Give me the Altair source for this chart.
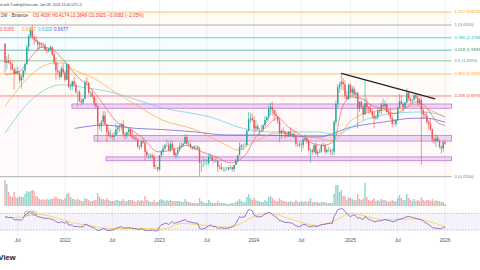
import altair as alt
import numpy as np
import pandas as pd

FONT = "Liberation Sans"

# ---- ADA/USDT weekly candles (Binance); week 0 = 2021-05-17, last = 2026-01-05
FIRST_OPEN = 2.22
CLOSE = [
    1.60, 1.66, 1.60, 1.56, 1.43, 1.32, 1.38, 1.33, 1.18, 1.25,
    1.40, 1.56, 2.10, 2.55, 2.85, 2.50, 2.40, 2.33, 2.20, 2.25,
    2.20, 2.17, 2.00, 1.97, 2.04, 2.10, 1.85, 1.60, 1.40, 1.36,
    1.25, 1.45, 1.35, 1.19, 1.55, 1.06, 1.07, 1.16, 1.09, 0.96,
    0.96, 0.82, 0.80, 0.85, 1.14, 1.13, 0.95, 0.95, 0.89, 0.79,
    0.75, 0.53, 0.53, 0.57, 0.64, 0.55, 0.48, 0.45, 0.45, 0.44,
    0.45, 0.50, 0.52, 0.53, 0.55, 0.46, 0.45, 0.48, 0.50, 0.45,
    0.44, 0.43, 0.42, 0.37, 0.37, 0.41, 0.40, 0.34, 0.32, 0.32,
    0.32, 0.31, 0.26, 0.26, 0.25, 0.32, 0.34, 0.36, 0.38, 0.38,
    0.35, 0.39, 0.36, 0.32, 0.33, 0.35, 0.37, 0.38, 0.39, 0.44,
    0.39, 0.39, 0.37, 0.36, 0.37, 0.37, 0.36, 0.28, 0.28, 0.28,
    0.28, 0.28, 0.31, 0.31, 0.29, 0.29, 0.29, 0.26, 0.26, 0.25,
    0.25, 0.25, 0.25, 0.26, 0.26, 0.25, 0.27, 0.29, 0.32, 0.37,
    0.38, 0.38, 0.38, 0.49, 0.60, 0.61, 0.59, 0.51, 0.53, 0.50,
    0.50, 0.50, 0.54, 0.59, 0.62, 0.72, 0.74, 0.70, 0.66, 0.63,
    0.58, 0.47, 0.49, 0.48, 0.46, 0.45, 0.48, 0.45, 0.46, 0.44,
    0.39, 0.39, 0.38, 0.38, 0.42, 0.43, 0.41, 0.35, 0.35, 0.34,
    0.38, 0.33, 0.34, 0.34, 0.38, 0.38, 0.34, 0.35, 0.35, 0.34,
    0.34, 0.57, 0.78, 1.05, 1.10, 1.15, 1.10, 0.90, 0.85, 1.09,
    0.95, 1.02, 0.92, 0.95, 0.72, 0.81, 0.75, 0.65, 0.79, 0.74,
    0.72, 0.68, 0.64, 0.61, 0.62, 0.70, 0.69, 0.77, 0.75, 0.78,
    0.68, 0.66, 0.61, 0.55, 0.55, 0.59, 0.73, 0.82, 0.78, 0.74,
    0.80, 0.95, 0.86, 0.83, 0.84, 0.91, 0.87, 0.79, 0.84, 0.70,
    0.65, 0.64, 0.57, 0.55, 0.50, 0.42, 0.41, 0.43, 0.41, 0.37,
    0.36, 0.4006, 0.3925,
]
HIGH = [
    2.26, 1.79, 1.87, 1.68, 1.64, 1.47, 1.48, 1.50, 1.38, 1.30,
    1.42, 1.60, 2.20, 2.62, 2.97, 3.10, 2.58, 2.55, 2.40, 2.30,
    2.30, 2.28, 2.25, 2.10, 2.08, 2.18, 2.12, 1.95, 1.77, 1.60,
    1.40, 1.52, 1.58, 1.40, 1.60, 1.57, 1.11, 1.17, 1.25, 1.14,
    0.98, 1.00, 0.86, 0.87, 1.19, 1.25, 1.15, 0.98, 1.00, 0.91,
    0.87, 0.76, 0.56, 0.59, 0.69, 0.69, 0.55, 0.52, 0.50, 0.47,
    0.48, 0.56, 0.54, 0.55, 0.56, 0.59, 0.48, 0.48, 0.52, 0.52,
    0.50, 0.46, 0.45, 0.43, 0.38, 0.42, 0.43, 0.41, 0.35, 0.33,
    0.33, 0.33, 0.32, 0.27, 0.26, 0.32, 0.35, 0.38, 0.39, 0.42,
    0.40, 0.41, 0.41, 0.37, 0.34, 0.36, 0.40, 0.40, 0.40, 0.46,
    0.46, 0.41, 0.40, 0.37, 0.38, 0.38, 0.38, 0.37, 0.29, 0.31,
    0.30, 0.30, 0.33, 0.33, 0.32, 0.30, 0.31, 0.29, 0.27, 0.28,
    0.26, 0.26, 0.26, 0.26, 0.27, 0.26, 0.27, 0.30, 0.32, 0.40,
    0.39, 0.39, 0.40, 0.50, 0.68, 0.67, 0.66, 0.63, 0.59, 0.55,
    0.51, 0.54, 0.55, 0.63, 0.63, 0.76, 0.80, 0.81, 0.71, 0.70,
    0.64, 0.62, 0.50, 0.52, 0.49, 0.48, 0.49, 0.52, 0.47, 0.48,
    0.45, 0.40, 0.41, 0.40, 0.43, 0.46, 0.44, 0.42, 0.36, 0.36,
    0.39, 0.40, 0.35, 0.36, 0.39, 0.40, 0.39, 0.36, 0.37, 0.36,
    0.36, 0.59, 0.83, 1.10, 1.15, 1.33, 1.23, 1.18, 0.98, 1.12,
    1.12, 1.07, 1.06, 0.99, 0.96, 0.82, 0.83, 0.77, 1.18, 0.86,
    0.75, 0.77, 0.72, 0.69, 0.64, 0.73, 0.72, 0.80, 0.86, 0.83,
    0.79, 0.71, 0.72, 0.64, 0.60, 0.60, 0.75, 0.93, 0.91, 0.81,
    0.81, 1.02, 0.97, 0.88, 0.85, 0.92, 0.93, 0.90, 0.87, 0.88,
    0.73, 0.68, 0.68, 0.59, 0.60, 0.51, 0.44, 0.46, 0.45, 0.42,
    0.38, 0.41, 0.4174,
]
LOW = [
    1.33, 1.43, 1.58, 1.40, 1.40, 1.00, 1.30, 1.30, 1.12, 1.02,
    1.18, 1.31, 1.55, 1.95, 2.45, 2.40, 2.17, 2.28, 1.95, 2.03,
    2.08, 2.07, 1.98, 1.88, 1.92, 1.96, 1.80, 1.55, 1.20, 1.30,
    1.20, 1.23, 1.30, 1.15, 1.18, 1.03, 0.99, 1.00, 1.06, 0.93,
    0.74, 0.81, 0.76, 0.78, 0.85, 1.08, 0.92, 0.88, 0.86, 0.75,
    0.72, 0.40, 0.50, 0.48, 0.55, 0.54, 0.40, 0.44, 0.43, 0.42,
    0.41, 0.45, 0.46, 0.48, 0.49, 0.44, 0.42, 0.43, 0.45, 0.44,
    0.42, 0.42, 0.41, 0.36, 0.35, 0.36, 0.39, 0.29, 0.31, 0.30,
    0.30, 0.30, 0.25, 0.25, 0.24, 0.245, 0.31, 0.32, 0.35, 0.37,
    0.34, 0.34, 0.35, 0.315, 0.30, 0.31, 0.34, 0.36, 0.37, 0.39,
    0.38, 0.37, 0.36, 0.35, 0.35, 0.35, 0.35, 0.22, 0.24, 0.26,
    0.27, 0.27, 0.27, 0.30, 0.29, 0.28, 0.28, 0.24, 0.25, 0.25,
    0.24, 0.24, 0.245, 0.245, 0.25, 0.24, 0.24, 0.27, 0.28, 0.32,
    0.35, 0.35, 0.37, 0.38, 0.48, 0.56, 0.57, 0.46, 0.48, 0.49,
    0.45, 0.48, 0.48, 0.53, 0.56, 0.58, 0.64, 0.64, 0.58, 0.62,
    0.55, 0.40, 0.43, 0.47, 0.43, 0.44, 0.44, 0.44, 0.44, 0.43,
    0.37, 0.37, 0.37, 0.34, 0.36, 0.41, 0.39, 0.34, 0.28, 0.32,
    0.33, 0.32, 0.31, 0.33, 0.33, 0.37, 0.33, 0.33, 0.34, 0.32,
    0.32, 0.32, 0.54, 0.73, 0.95, 1.00, 0.98, 0.85, 0.83, 0.84,
    0.88, 0.89, 0.90, 0.86, 0.51, 0.68, 0.72, 0.59, 0.65, 0.67,
    0.66, 0.67, 0.61, 0.51, 0.59, 0.60, 0.66, 0.65, 0.72, 0.71,
    0.67, 0.64, 0.60, 0.52, 0.54, 0.53, 0.58, 0.72, 0.77, 0.68,
    0.72, 0.79, 0.82, 0.79, 0.79, 0.82, 0.85, 0.76, 0.77, 0.27,
    0.60, 0.61, 0.55, 0.50, 0.49, 0.40, 0.39, 0.37, 0.40, 0.36,
    0.33, 0.34, 0.3849,
]
# weekly volume, millions of ADA
VOLUME_M = [
    5200, 4400, 2800, 2000, 1800, 2800, 1800, 1600, 2000, 1800,
    1800, 2400, 3000, 2800, 3000, 3200, 3000, 2000, 1800, 1400,
    1200, 1400, 1200, 1400, 1200, 1400, 1400, 1600, 2000, 1600,
    1400, 1400, 1200,
    1600, 2400, 2600, 1800, 1400, 1400, 1200, 1400, 1200, 1000,
    1000, 1600, 1400, 1200, 1000, 1000, 1200, 1200, 2600, 1800,
    1400, 1400, 1200, 1600, 1200, 1000, 1000, 1000, 1200, 1200,
    1000, 1000, 1400, 1000, 1000, 1200, 1200, 1200, 1000, 800,
    1200, 1000, 1200, 1000, 2000, 1200, 1000, 800, 800, 1200,
    800, 800,
    1200, 1400, 1200, 1000, 1200, 1000, 1200, 1000, 1000, 1000,
    1000, 1000, 800, 800, 1400, 1000, 800, 800, 600, 600,
    600, 600, 1600, 1000, 800, 600, 600, 1200, 800, 600,
    600, 600, 1000, 600, 600, 600, 600, 400, 400, 600,
    600, 600, 800, 1000, 1400, 1000, 800, 800, 1800, 2400, 1600, 1200,
    1600, 1200, 1000, 1000, 800, 800, 1200, 1000, 1800, 2000,
    1600, 1200, 1000, 1000, 1600, 1200, 1000, 1000, 800, 800,
    1000, 800, 800, 1200, 800, 800, 1000, 800, 1000, 800,
    1000, 1600, 800, 800, 800, 800, 600, 800, 800, 800,
    600, 600, 600, 600, 2400, 4200, 4200, 2800, 3200, 2000,
    2000, 1200, 1800,
    1600, 1400, 1200, 1200, 2400, 1400, 1200, 1400, 4600, 1800,
    1200, 1000, 1200, 1600, 1000, 1200, 1000, 1400, 1200, 1200,
    1000, 800, 1000, 1200, 1000, 1000, 1600, 2200, 1600, 1200,
    1200, 2400, 1600, 1200, 1000, 1400, 1000, 1200, 1000, 1800,
    1200, 1000, 1200, 1200, 1000, 1400, 1000, 1200, 1000, 1000,
    800, 800, 400,
]
assert len(CLOSE) == len(HIGH) == len(LOW) == len(VOLUME_M) == 243

# ---- moving averages, sampled as (week, value)
EMA20_W = [0, 8, 14, 20, 26, 33, 40, 47, 54, 61, 68, 76, 84, 92, 100, 108, 116, 124,
           132, 138, 144, 150, 156, 162, 168, 175, 181, 185, 190, 196, 202, 208, 214,
           220, 226, 232, 237, 242]
EMA20_V = [1.30, 1.38, 1.75, 2.10, 2.02, 1.62, 1.25, 1.03, 0.78, 0.58, 0.51, 0.43, 0.34,
           0.35, 0.38, 0.34, 0.31, 0.28, 0.32, 0.44, 0.53, 0.61, 0.52, 0.46, 0.40, 0.38,
           0.41, 0.70, 0.88, 0.86, 0.76, 0.72, 0.66, 0.72, 0.81, 0.73, 0.58, 0.5365]
EMA50_W = [0, 11.6, 20.5, 26, 32, 36.6, 49, 60, 72, 86.6, 104.4, 122, 128, 136.5, 149,
           172, 181, 190, 199, 217, 226, 235, 242]
EMA50_V = [0.75, 1.19, 1.50, 1.59, 1.60, 1.45, 1.22, 0.97, 0.77, 0.59, 0.50, 0.38, 0.35,
           0.40, 0.47, 0.43, 0.41, 0.58, 0.67, 0.72, 0.76, 0.69, 0.6257]
EMA100_W = [0, 15, 31, 45.5, 59.8, 72.3, 86.6, 113.4, 131, 145.5, 172.3, 181, 199, 217,
            231, 242]
EMA100_V = [0.47, 0.85, 1.09, 1.03, 0.95, 0.84, 0.73, 0.62, 0.51, 0.48, 0.48, 0.46, 0.60,
            0.67, 0.68, 0.6209]
EMA200_W = [38.4, 54.4, 72.3, 86.6, 104.4, 122, 140, 172.3, 190, 208, 226, 231, 242]
EMA200_V = [0.51, 0.54, 0.51, 0.50, 0.48, 0.455, 0.455, 0.44, 0.52, 0.57, 0.61, 0.61,
            0.5677]

# ---- RSI(14) and its moving average
RSI_W = [0, 2, 4, 5, 7, 8, 9, 10, 11, 12, 13, 14, 15, 16, 17, 18, 20, 22, 24, 26, 27, 28,
         30, 31, 32, 33, 34, 35, 37, 38, 40, 41, 43, 44, 45, 47, 49, 51, 52, 53, 54, 55,
         56, 58, 60, 61, 63, 64, 65, 67, 68, 70, 72, 73, 75, 76, 77, 79, 81, 82, 84, 85,
         86, 88, 89, 90, 91, 92, 93, 94, 96, 99, 100, 102, 104, 106, 107, 108, 110, 112,
         113, 114, 116, 117, 119, 121, 122, 124, 125, 126, 127, 128, 129, 130, 131, 132,
         133, 134, 135, 136, 137, 138, 139, 140, 141, 142, 143, 144, 145, 146, 147, 148,
         149, 150, 151, 152, 154, 156, 158, 160, 161, 162, 164, 165, 166, 167, 168, 170,
         171, 172, 174, 176, 178, 180, 181, 182, 183, 184, 185, 186, 187, 188, 189, 190,
         191, 192, 193, 194, 195, 196, 197, 198, 199, 200, 201, 202, 203, 204, 205, 207,
         208, 209, 210, 212, 213, 214, 215, 216, 217, 218, 219, 220, 221, 222, 223, 224,
         225, 226, 227, 228, 229, 230, 231, 232, 233, 234, 235, 236, 237, 238, 239, 240,
         241, 242]
RSI_V = [62, 60, 60, 54, 55, 54, 53, 58, 66, 70, 72, 74, 72, 70, 65, 62, 60, 58, 58, 55,
         54, 50, 47, 50, 48, 46, 50, 42, 42, 38, 39, 37, 38, 44, 43, 38, 35, 29, 30, 31,
         34, 32, 29, 29, 31, 34, 37, 38, 35, 35, 36, 34, 33, 31, 33, 31, 29, 29, 30, 28,
         28, 38, 42, 46, 46, 43, 47, 50, 46, 47, 50, 55, 51, 49, 47, 46, 34, 32, 34, 40,
         42, 39, 38, 34, 35, 34, 34, 36, 38, 40, 46, 54, 62, 60, 61, 62, 72, 79, 78, 76,
         66, 63, 61, 62, 62, 65, 68, 70, 72, 71, 67, 64, 61, 58, 52, 52, 48, 48, 46, 40,
         39, 38, 43, 43, 41, 38, 38, 40, 38, 39, 43, 44, 46, 46, 62, 70, 79, 80, 82, 80,
         74, 70, 65, 62, 65, 66, 64, 58, 60, 57, 55, 62, 59, 56, 54, 52, 50, 50, 52, 52,
         54, 55, 54, 52, 50, 50, 52, 55, 56, 57, 58, 60, 62, 62, 62, 60, 59, 58, 56, 56,
         54, 52, 48, 46, 43, 40, 36, 35, 34, 34, 33, 33, 36, 36.5]
RSI_MA_W = [0, 8, 17, 27.6, 36.6, 47.3, 59.8, 72.3, 86.6, 97.3, 108, 122.3, 129.5, 136.6,
            145.5, 154.5, 161.6, 172.3, 181.2, 190.2, 199.1, 208, 217, 225.9, 234.8, 242]
RSI_MA_V = [60, 60, 68, 60, 48, 40, 33, 34, 32, 46, 42, 37, 45, 62, 70, 60, 50, 41, 52, 70,
            62, 55, 55, 57, 48, 38]
assert len(RSI_W) == len(RSI_V)
RSI_MARK_W = [12, 16]

# ---- Fibonacci retracement (0 = 0.2200, 1 = 3.0910)
FIB_LEVELS = [0, 0.236, 0.382, 0.5, 0.618, 0.786, 1, 1.272]
FIB_PRICES = [0.2200, 0.8976, 1.3167, 1.6555, 1.9943, 2.4766, 3.0910, 3.8720]
FIB_COLORS = ["#787b86", "#f23645", "#ff9800", "#4caf50", "#089981", "#00bcd4",
              "#787b86", "#ff9800"]
FIB_START, FIB_END = -3, 245.6

# ---- support / resistance boxes
ZONE_START = [36.8, 49, 55.5]
ZONE_END = 245.6
ZONE_TOP = [0.781, 0.451, 0.311]
ZONE_BOT = [0.724, 0.409, 0.291]

# ---- descending trendline
TREND_W = [185, 236.6]
TREND_P = [1.33, 0.852]

TICK_WEEKS = [7, 33, 59, 85, 111, 137, 163, 190, 216, 242]
TICK_LABELS = ["Jul", "2022", "Jul", "2023", "Jul", "2024", "Jul", "2025", "Jul", "2026"]

UP, DOWN = "#26a69a", "#ef5350"

# ---------------------------------------------------------------- tables
n = len(CLOSE)
opens = [FIRST_OPEN] + CLOSE[:-1]
candles = pd.DataFrame({
    "week": np.arange(n), "open": opens, "high": HIGH, "low": LOW, "close": CLOSE,
    "volume": VOLUME_M,
})
candles["dir"] = np.where(candles["close"] >= candles["open"], "up", "down")
candles["body_hi"] = candles[["open", "close"]].max(axis=1)
candles["body_lo"] = candles[["open", "close"]].min(axis=1)

fib = pd.DataFrame({
    "level": [str(l) for l in FIB_LEVELS], "price": FIB_PRICES,
    "start": FIB_START, "end": FIB_END,
})
fib["label"] = [f"{l} ({p:.4f})" for l, p in zip(fib["level"], FIB_PRICES)]
bands = pd.DataFrame({
    "level": fib["level"][1:].values, "top": FIB_PRICES[1:], "bot": FIB_PRICES[:-1],
    "start": FIB_START, "end": FIB_END,
})
zones = pd.DataFrame({"start": ZONE_START, "end": ZONE_END, "top": ZONE_TOP, "bot": ZONE_BOT})

# ---------------------------------------------------------------- scales
X = alt.Scale(domain=[33, 242], range=[60, 450], nice=False, zero=False)
YP = alt.Scale(type="log", domain=[0.22, 3.091], range=[176.7, 25], nice=False)
YV = alt.Scale(domain=[0, 5200], range=[206, 180], nice=False, zero=False)
YR = alt.Scale(domain=[30, 70], range=[230, 213.3], nice=False, zero=False)
DIR = alt.Scale(domain=["up", "down"], range=[UP, DOWN])
FIBC = alt.Scale(domain=[str(l) for l in FIB_LEVELS], range=FIB_COLORS)


def xq(field):
    return alt.X(f"{field}:Q", scale=X, axis=None)


def yp(field):
    return alt.Y(f"{field}:Q", scale=YP, axis=None)


layers = []

# vertical time grid
layers.append(
    alt.Chart(pd.DataFrame({"week": TICK_WEEKS}))
    .mark_rule(color="#eceef3", strokeWidth=0.8)
    .encode(x=xq("week"), y=alt.value(0), y2=alt.value(236))
)

# fib background bands, lines and labels
layers.append(
    alt.Chart(bands).mark_rect(opacity=0.03)
    .encode(x=xq("start"), x2="end:Q", y=yp("top"), y2="bot:Q",
            color=alt.Color("level:N", scale=FIBC, legend=None))
)
layers.append(
    alt.Chart(fib).mark_rule(strokeWidth=1, opacity=0.6)
    .encode(x=xq("start"), x2="end:Q", y=yp("price"),
            color=alt.Color("level:N", scale=FIBC, legend=None))
)
layers.append(
    alt.Chart(fib).mark_text(align="left", baseline="middle", dx=3, fontSize=4.2, font=FONT)
    .encode(x=xq("end"), y=yp("price"), text="label:N",
            color=alt.Color("level:N", scale=FIBC, legend=None))
)

# support / resistance boxes
layers.append(
    alt.Chart(zones).mark_rect(fill="#c77ddb", fillOpacity=0.28, stroke="#b45fd0",
                               strokeWidth=0.8, strokeOpacity=0.8)
    .encode(x=xq("start"), x2="end:Q", y=yp("top"), y2="bot:Q")
)

# moving averages
for w, v, col in [(EMA200_W, EMA200_V, "#5b5fd6"), (EMA100_W, EMA100_V, "#5fd3e6"),
                  (EMA50_W, EMA50_V, "#ffa64d"), (EMA20_W, EMA20_V, "#f06262")]:
    layers.append(
        alt.Chart(pd.DataFrame({"week": w, "value": v}))
        .mark_line(color=col, strokeWidth=0.8, interpolate="monotone", opacity=0.9)
        .encode(x=xq("week"), y=yp("value"))
    )

# candles
layers.append(
    alt.Chart(candles).mark_rule(strokeWidth=0.6)
    .encode(x=xq("week"), y=yp("high"), y2="low:Q",
            color=alt.Color("dir:N", scale=DIR, legend=None))
)
layers.append(
    alt.Chart(candles).mark_bar(size=1.4)
    .encode(x=xq("week"), y=yp("body_hi"), y2="body_lo:Q",
            color=alt.Color("dir:N", scale=DIR, legend=None))
)

# trendline
layers.append(
    alt.Chart(pd.DataFrame({"week": TREND_W, "price": TREND_P}))
    .mark_line(color="#1e222d", strokeWidth=1.3)
    .encode(x=xq("week"), y=yp("price"))
)

# volume
layers.append(
    alt.Chart(candles).mark_bar(size=1.4, opacity=0.5)
    .encode(x=xq("week"), y=alt.Y("volume:Q", scale=YV, axis=None), y2=alt.datum(0),
            color=alt.Color("dir:N", scale=DIR, legend=None))
)

# RSI pane
layers.append(
    alt.Chart(pd.DataFrame({"top": [70], "bot": [30]}))
    .mark_rect(color="#7e57c2", opacity=0.08)
    .encode(x=alt.value(0), x2=alt.value(480),
            y=alt.Y("top:Q", scale=YR, axis=None), y2="bot:Q")
)
layers.append(
    alt.Chart(pd.DataFrame({"band": [70, 30]}))
    .mark_rule(color="#9598a1", strokeWidth=0.6, strokeDash=[1.5, 1.5])
    .encode(x=alt.value(0), x2=alt.value(480), y=alt.Y("band:Q", scale=YR, axis=None))
)
layers.append(
    alt.Chart(pd.DataFrame({"week": RSI_MA_W, "rsi": RSI_MA_V}))
    .mark_line(color="#f2d24a", strokeWidth=0.8, interpolate="monotone")
    .encode(x=xq("week"), y=alt.Y("rsi:Q", scale=YR, axis=None))
)
layers.append(
    alt.Chart(pd.DataFrame({"week": RSI_W, "rsi": RSI_V}))
    .mark_line(color="#7e57c2", strokeWidth=0.8)
    .encode(x=xq("week"), y=alt.Y("rsi:Q", scale=YR, axis=None))
)
rsi_lookup = dict(zip(RSI_W, RSI_V))
layers.append(
    alt.Chart(pd.DataFrame({"week": RSI_MARK_W, "rsi": [rsi_lookup[w] for w in RSI_MARK_W]}))
    .mark_point(shape="circle", size=22, filled=False, color="#787b86", strokeWidth=0.7)
    .encode(x=xq("week"), y=alt.Y("rsi:Q", scale=YR, axis=None))
)

# time labels
layers.append(
    alt.Chart(pd.DataFrame({"week": TICK_WEEKS, "label": TICK_LABELS}))
    .mark_text(fontSize=4.8, color="#50535e", font=FONT, baseline="middle")
    .encode(x=xq("week"), y=alt.value(241), text="label:N")
)


def label(text, x, y, size, color, weight="normal", align="left"):
    return (
        alt.Chart(pd.DataFrame({"t": [text]}))
        .mark_text(align=align, baseline="middle", fontSize=size, color=color,
                   font=FONT, fontWeight=weight)
        .encode(x=alt.value(x), y=alt.value(y), text="t:N")
    )


layers += [
    label("d with TradingView.com, Jan 08, 2026 10:40 UTC-5", 0, 5, 3.6, "#434651"),
    label("1W · Binance", 0.5, 16, 4.6, "#434651"),
    label("O0.4006 H0.4174 L0.3849 C0.3925 −0.0082 (−2.05%)", 33, 16, 4.6, "#f23645"),
    label("0.5365", 0, 29.5, 4.6, "#f06262"),
    label("0.6257", 22, 29.5, 4.6, "#ff9f40"),
    label("0.6209", 38, 29.5, 4.6, "#36c5dc"),
    label("0.5677", 54, 29.5, 4.6, "#4a4fc8"),
    label("TradingView", 15.5, 258, 7.5, "#131722", weight="bold", align="right"),
]

chart = (
    alt.layer(*layers)
    .resolve_scale(y="independent", color="independent")
    .properties(width=480, height=270, autosize=alt.AutoSizeParams(type="none"),
                padding=0, background="white")
    .configure_view(strokeWidth=0)
)

chart.save("out.html", embed_options={"renderer": "svg", "actions": False})
